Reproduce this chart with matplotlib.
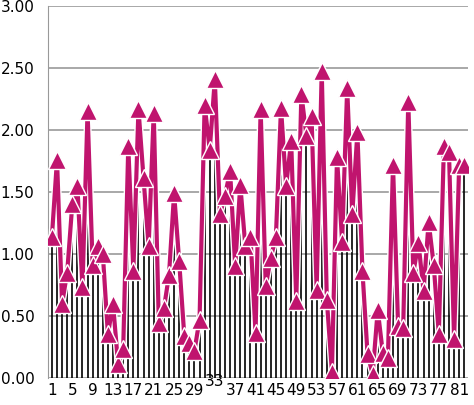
import numpy as np
import matplotlib.pyplot as plt
from matplotlib.transforms import ScaledTranslation

values = [1.14, 1.76, 0.60, 0.85, 1.40, 1.55, 0.73, 2.15, 0.91, 1.06,
          1.00, 0.35, 0.60, 0.11, 0.23, 1.87, 0.86, 2.17, 1.61, 1.06,
          2.14, 0.44, 0.56, 0.83, 1.49, 0.94, 0.34, 0.28, 0.22, 0.47,
          2.20, 1.84, 2.41, 1.32, 1.47, 1.67, 0.90, 1.56, 1.06, 1.14,
          0.36, 2.17, 0.74, 0.97, 1.14, 2.18, 1.55, 1.91, 0.62, 2.29,
          1.95, 2.11, 0.71, 2.48, 0.63, 0.05, 1.78, 1.10, 2.34, 1.32,
          1.98, 0.86, 0.19, 0.03, 0.55, 0.20, 0.16, 1.72, 0.42, 0.40,
          2.23, 0.85, 1.09, 0.70, 1.26, 0.91, 0.35, 1.87, 1.82, 0.31,
          1.72, 1.72]
x = np.arange(1, len(values) + 1)
xticks = list(range(1, 82, 4))

fig = plt.figure(figsize=(4.74, 4.05), dpi=100)
ax = fig.add_axes([0.102, 0.067, 0.885, 0.918])

ax.vlines(x, 0, values, color="black", lw=1.2, zorder=2)
ax.plot(x, values, color="white", lw=5, zorder=3)
ax.plot(x, values, color="#C0146E", lw=3, marker="^", ms=13,
        mec="white", mew=1, mfc="#C0146E", zorder=4)

ax.set_ylim(0, 3)
ax.set_xlim(0.3, len(values) + 0.7)
ax.set_yticks(np.arange(0, 3.01, 0.5))
ax.set_yticklabels([f"{v:.2f}" for v in np.arange(0, 3.01, 0.5)])
ax.set_xticks(xticks)
ax.yaxis.grid(True, color="#999999", lw=1.2)
ax.set_axisbelow(True)
for s in ["top", "right", "bottom"]:
    ax.spines[s].set_visible(False)
ax.spines["left"].set_color("#999999")
ax.tick_params(axis="both", length=0, labelsize=11)
ax.tick_params(axis="y", pad=10)
fig.canvas.draw()
for lbl in ax.get_xticklabels():
    if lbl.get_text() == "33":
        lbl.set_transform(lbl.get_transform() + ScaledTranslation(0, 6 / 72, fig.dpi_scale_trans))

fig.savefig("out.png", dpi=100)
